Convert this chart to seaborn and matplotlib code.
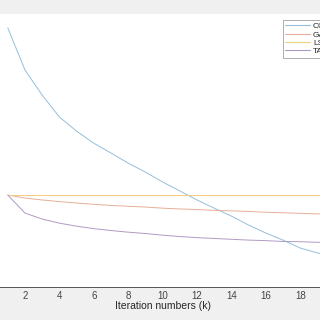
import numpy as np
import pandas as pd
import matplotlib
matplotlib.use("Agg")
import matplotlib.pyplot as plt
import seaborn as sns
from matplotlib.lines import Line2D

iterations = list(range(1, 21))
cg = [0.949, 0.795, 0.703, 0.623, 0.571, 0.527, 0.491, 0.454, 0.421, 0.385,
      0.352, 0.319, 0.289, 0.260, 0.227, 0.198, 0.172, 0.143, 0.125, 0.110]
ga = [0.337, 0.326, 0.319, 0.313, 0.308, 0.303, 0.299, 0.296, 0.293, 0.289,
      0.286, 0.284, 0.281, 0.279, 0.277, 0.274, 0.272, 0.270, 0.268, 0.266]
ls = [0.337] * 20
ta = [0.337, 0.271, 0.249, 0.234, 0.223, 0.214, 0.207, 0.201, 0.196, 0.190,
      0.185, 0.181, 0.178, 0.175, 0.172, 0.170, 0.167, 0.166, 0.164, 0.163]
series_names = ["CG", "GA", "LS", "TA"]
xticks = [2, 4, 6, 8, 10, 12, 14, 16, 18, 20]

df = pd.DataFrame({
    "k": iterations * 4,
    "value": cg + ga + ls + ta,
    "method": sum([[n] * 20 for n in series_names], []),
})

sns.set_style("white")
plt.rcParams["font.family"] = ["Liberation Sans", "DejaVu Sans"]

colors = ["#94bfdc", "#e6ae98", "#f2cf7c", "#b09ac4"]

fig = plt.figure(figsize=(3.2, 3.2), dpi=100, facecolor="#f0f0f0")
ax = fig.add_axes([-0.0294, 0.103, 1.075, 0.853])
ax.set_facecolor("white")
sns.lineplot(data=df, x="k", y="value", hue="method", hue_order=series_names,
             palette=colors, linewidth=0.7, ax=ax, legend=False)
ax.set_xlim(0, 20)
ax.set_ylim(0, 1)
ax.set_xticks(xticks)
ax.set_xticklabels([str(t) for t in xticks], fontsize=7, color="#444444")
ax.set_yticks([])
ax.set_ylabel("")
ax.set_xlabel("Iteration numbers (k)", fontsize=7.5, color="#262626", labelpad=0)
ax.tick_params(axis="x", direction="in", length=3, width=0.6, color="#555555", pad=3)
for s in ["top", "right", "left"]:
    ax.spines[s].set_visible(False)
ax.spines["bottom"].set_color("#555555")
ax.spines["bottom"].set_linewidth(0.7)

handles = [Line2D([0], [0], color=c, lw=0.8) for c in colors]
leg = fig.legend(handles, series_names, loc="upper left",
                 bbox_to_anchor=(0.884, 0.9375), borderaxespad=0,
                 fontsize=6.0, frameon=True, fancybox=False,
                 handlelength=3.0, handletextpad=0.3, labelspacing=0.05,
                 borderpad=0.3)
leg.get_frame().set_edgecolor("#888888")
leg.get_frame().set_linewidth(0.6)

fig.savefig("out.png", dpi=100, facecolor=fig.get_facecolor())
